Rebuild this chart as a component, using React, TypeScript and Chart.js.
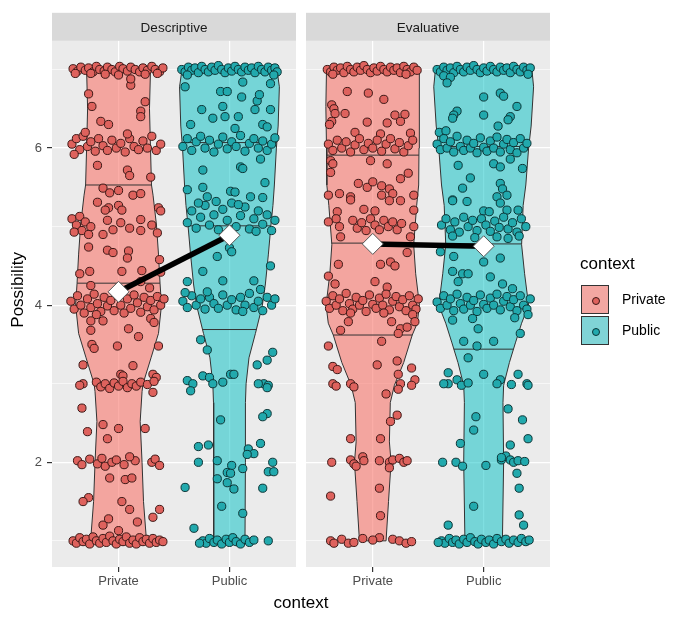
import { useEffect, useRef } from "react";
import { Chart, registerables } from "chart.js";

Chart.register(...registerables);

const FONT = "'Liberation Sans', Arial, Helvetica, sans-serif";

// ---- categories / ticks ----
const facets = ["Descriptive", "Evaluative"];
const contexts = ["Private", "Public"];
const xTickLabels = ["Private", "Public", "Private", "Public"];
const groupPositions = [1, 2, 3.292, 4.292];
const facetRanges = [
  [0.4, 2.6],
  [2.69, 4.89],
];
const yTicks = [1, 2, 3, 4, 5, 6, 7];

// ---- means (white diamonds) ----
const meanValues = [4.17, 4.89, 4.78, 4.75];

// ---- quantile lines (25 / 50 / 75 %) ----
const descPrivateQuantiles = [3.0, 4.28, 5.53];
const descPublicQuantiles = [3.69, 5.01, 6.07];
const evalPrivateQuantiles = [3.62, 4.79, 5.91];
const evalPublicQuantiles = [3.44, 4.78, 6.02];

// ---- violin outlines: levels (ascending) and half-widths ----
const descPrivateViolinY = [1.0, 1.5, 2.0, 2.52, 2.9, 3.0, 3.33, 3.64, 4.0, 4.28, 4.65, 5.02, 5.4, 5.53, 6.0, 6.5, 7.0];
const descPrivateViolinW = [0.252, 0.225, 0.212, 0.195, 0.212, 0.221, 0.293, 0.36, 0.387, 0.374, 0.36, 0.342, 0.311, 0.297, 0.288, 0.279, 0.288];

const descPublicViolinY = [1.0, 2.0, 2.76, 3.0, 3.33, 3.64, 4.0, 4.27, 4.65, 5.02, 5.27, 5.53, 6.0, 6.28, 6.78, 7.0];
const descPublicViolinW = [0.14, 0.144, 0.144, 0.15, 0.176, 0.234, 0.297, 0.324, 0.351, 0.374, 0.392, 0.405, 0.423, 0.439, 0.45, 0.428];

const evalPrivateViolinY = [1.0, 1.5, 2.0, 2.26, 2.76, 2.98, 3.27, 3.62, 3.77, 4.0, 4.4, 4.77, 5.27, 5.53, 6.0, 6.53, 7.0];
const evalPrivateViolinW = [0.12, 0.142, 0.165, 0.15, 0.158, 0.195, 0.279, 0.356, 0.401, 0.421, 0.387, 0.369, 0.396, 0.414, 0.417, 0.423, 0.417];

const evalPublicViolinY = [1.0, 2.0, 2.76, 2.98, 3.27, 3.52, 3.77, 4.0, 4.4, 4.77, 5.27, 5.53, 6.0, 6.28, 6.78, 7.0];
const evalPublicViolinW = [0.169, 0.18, 0.174, 0.18, 0.232, 0.286, 0.342, 0.405, 0.369, 0.342, 0.356, 0.38, 0.405, 0.428, 0.45, 0.435];

// ---- jittered observations: [x jitter, value] ----
const descPrivatePoints = [
  [-0.41, 7.01], [-0.37, 6.98], [-0.34, 7.03], [-0.3, 6.99], [-0.27, 7.02], [-0.23, 6.97], [-0.2, 7.04], [-0.17, 7.0], [-0.13, 6.98], [-0.1, 7.03],
  [-0.06, 7.0], [-0.03, 6.97], [0.01, 7.04], [0.04, 7.01], [0.08, 6.98], [0.11, 7.03], [0.15, 7.0], [0.19, 6.97], [0.22, 7.02], [0.26, 6.99],
  [0.3, 7.04], [0.33, 7.0], [0.37, 6.97], [0.4, 7.02], [-0.39, 6.95], [-0.25, 6.95], [0.0, 6.93], [0.24, 6.94], [0.35, 6.95], [-0.12, 6.94],
  [0.11, 6.8], [0.11, 6.88], [-0.27, 6.69], [0.24, 6.59], [-0.24, 6.53], [0.2, 6.47], [0.2, 6.4], [-0.16, 6.34], [-0.09, 6.3],
  [-0.42, 6.05], [-0.38, 6.12], [-0.35, 5.98], [-0.32, 6.15], [-0.28, 6.02], [-0.25, 6.08], [-0.21, 5.96], [-0.18, 6.12], [-0.14, 6.03], [-0.1, 5.97],
  [-0.06, 6.1], [-0.02, 6.0], [0.02, 6.06], [0.06, 5.95], [0.1, 6.12], [0.14, 6.02], [0.18, 5.98], [0.22, 6.09], [0.26, 6.0], [0.3, 6.15],
  [0.34, 5.97], [0.38, 6.05], [-0.4, 5.92], [0.08, 6.18], [-0.3, 6.2],
  [-0.19, 5.78], [0.08, 5.72], [0.1, 5.65], [0.29, 5.63], [-0.14, 5.49], [-0.08, 5.43], [0.0, 5.46], [0.13, 5.4], [0.2, 5.42],
  [-0.19, 5.31], [-0.09, 5.24], [-0.12, 5.21], [0.0, 5.27], [0.03, 5.21], [0.36, 5.24], [0.38, 5.2],
  [-0.42, 5.1], [-0.38, 5.02], [-0.35, 5.13], [-0.33, 4.95], [-0.3, 5.06], [-0.27, 4.9], [-0.4, 4.93], [-0.25, 5.0], [-0.1, 5.08], [0.02, 5.05],
  [0.1, 4.98], [0.2, 5.09], [0.2, 4.95], [0.35, 4.92], [-0.14, 4.9], [-0.05, 4.96], [0.3, 5.02],
  [-0.27, 4.74], [-0.1, 4.7], [-0.05, 4.67], [0.09, 4.69], [0.08, 4.6], [0.37, 4.58], [-0.35, 4.4], [-0.26, 4.43], [0.03, 4.43], [0.21, 4.44],
  [0.38, 4.42], [-0.25, 4.25], [0.2, 4.3], [0.28, 4.22],
  [-0.43, 4.05], [-0.4, 3.95], [-0.37, 4.12], [-0.34, 4.0], [-0.31, 3.9], [-0.28, 4.08], [-0.25, 3.97], [-0.22, 4.14], [-0.19, 4.02], [-0.16, 3.92],
  [-0.13, 4.1], [-0.1, 3.99], [-0.07, 4.06], [-0.04, 3.93], [-0.01, 4.12], [0.02, 4.0], [0.05, 3.9], [0.08, 4.08], [0.11, 3.96], [0.14, 4.13],
  [0.17, 4.03], [0.2, 3.91], [0.23, 4.1], [0.26, 3.98], [0.29, 4.06], [0.32, 3.94], [0.35, 4.11], [0.38, 4.0], [0.41, 4.08], [-0.2, 3.88],
  [-0.25, 3.8], [-0.14, 3.8], [0.29, 3.83], [0.32, 3.78], [-0.25, 3.68], [0.09, 3.7], [0.18, 3.6], [-0.24, 3.5], [-0.22, 3.45], [-0.01, 3.48],
  [0.36, 3.48], [0.13, 3.23], [-0.32, 3.24], [0.02, 3.12], [0.04, 3.1], [0.31, 3.12], [0.34, 3.08],
  [-0.32, 3.0], [-0.35, 2.98], [-0.2, 3.02], [-0.16, 2.96], [-0.12, 3.0], [-0.08, 2.94], [-0.04, 3.01], [0.0, 2.97], [0.04, 3.03], [0.08, 2.95],
  [0.12, 3.0], [0.16, 2.97], [0.2, 3.02], [0.26, 2.99], [0.32, 3.03],
  [0.31, 2.89], [-0.33, 2.69], [-0.14, 2.48], [0.0, 2.43], [-0.28, 2.39], [0.24, 2.43], [-0.1, 2.3],
  [-0.37, 2.02], [-0.33, 1.97], [-0.26, 2.04], [-0.19, 1.98], [-0.15, 2.05], [-0.12, 1.95], [-0.06, 2.0], [-0.02, 2.03], [0.05, 1.97], [0.15, 2.02],
  [0.3, 2.0], [0.33, 2.04], [0.37, 1.96], [0.1, 2.07],
  [-0.08, 1.8], [0.06, 1.78], [0.12, 1.8], [-0.27, 1.55], [-0.32, 1.5], [0.03, 1.5], [0.1, 1.4], [0.37, 1.4], [0.31, 1.3], [-0.14, 1.2],
  [-0.09, 1.28], [0.17, 1.24], [0.0, 1.13],
  [-0.41, 1.0], [-0.38, 0.97], [-0.35, 1.04], [-0.32, 0.99], [-0.29, 1.02], [-0.26, 0.96], [-0.23, 1.05], [-0.2, 1.0], [-0.17, 0.97], [-0.14, 1.03],
  [-0.11, 0.98], [-0.08, 1.06], [-0.05, 1.0], [-0.02, 0.96], [0.01, 1.02], [0.04, 0.99], [0.07, 1.05], [0.1, 0.97], [0.13, 1.01], [0.16, 0.96],
  [0.19, 1.04], [0.22, 0.99], [0.25, 1.02], [0.28, 0.97], [0.31, 1.03], [0.34, 0.98], [0.37, 1.01], [0.4, 0.99],
];

const descPublicPoints = [
  [-0.43, 7.0], [-0.4, 6.97], [-0.37, 7.03], [-0.34, 6.99], [-0.31, 7.02], [-0.28, 6.96], [-0.25, 7.04], [-0.22, 7.0], [-0.19, 6.97], [-0.16, 7.03],
  [-0.13, 6.99], [-0.1, 7.05], [-0.07, 7.0], [-0.04, 6.96], [-0.01, 7.02], [0.02, 6.98], [0.05, 7.04], [0.08, 7.0], [0.11, 6.97], [0.14, 7.03],
  [0.17, 6.99], [0.2, 7.02], [0.23, 6.96], [0.26, 7.04], [0.29, 7.0], [0.32, 6.97], [0.35, 7.03], [0.38, 6.99], [0.41, 7.02], [0.43, 6.97],
  [-0.38, 6.93], [0.4, 6.93],
  [-0.4, 6.78], [0.12, 6.84], [0.37, 6.82], [-0.08, 6.72], [-0.02, 6.72], [0.11, 6.65], [0.25, 6.6], [0.27, 6.68], [-0.25, 6.49], [-0.06, 6.53],
  [0.23, 6.49], [0.37, 6.49], [-0.15, 6.38], [-0.04, 6.4], [0.08, 6.4], [0.3, 6.3], [0.34, 6.27], [-0.35, 6.3], [0.05, 6.25],
  [-0.42, 6.02], [-0.38, 6.12], [-0.34, 5.97], [-0.3, 6.08], [-0.26, 6.15], [-0.22, 6.0], [-0.18, 6.1], [-0.14, 5.95], [-0.1, 6.05], [-0.06, 6.14],
  [-0.02, 5.99], [0.02, 6.08], [0.06, 6.02], [0.1, 6.16], [0.14, 5.96], [0.18, 6.06], [0.22, 6.12], [0.26, 6.0], [0.3, 6.09], [0.34, 5.97],
  [0.38, 6.05], [0.41, 6.13],
  [0.28, 5.86], [0.1, 5.76], [0.12, 5.74], [-0.24, 5.72], [0.32, 5.56], [-0.38, 5.47], [-0.24, 5.5], [-0.2, 5.38], [0.01, 5.45], [0.05, 5.44],
  [0.19, 5.38], [0.3, 5.37],
  [-0.38, 5.05], [-0.34, 5.2], [-0.3, 4.98], [-0.26, 5.12], [-0.22, 5.27], [-0.18, 5.02], [-0.14, 5.15], [-0.1, 4.96], [-0.06, 5.22], [-0.02, 5.08],
  [0.02, 5.3], [0.06, 5.0], [0.1, 5.14], [0.14, 5.25], [0.18, 4.97], [0.22, 5.1], [0.26, 5.2], [0.3, 5.03], [0.34, 5.15], [0.38, 4.95],
  [0.41, 5.08], [-0.12, 5.32], [0.08, 5.28], [0.24, 4.94], [-0.28, 5.3],
  [-0.11, 4.62], [0.0, 4.73], [0.02, 4.68], [0.37, 4.5], [-0.24, 4.43], [-0.06, 4.31], [0.22, 4.31], [-0.38, 4.3], [0.28, 4.2],
  [-0.42, 4.05], [-0.38, 3.97], [-0.34, 4.12], [-0.3, 4.0], [-0.26, 4.08], [-0.22, 3.95], [-0.18, 4.1], [-0.14, 4.02], [-0.1, 3.96], [-0.06, 4.13],
  [-0.02, 4.0], [0.02, 4.07], [0.06, 3.94], [0.1, 4.1], [0.14, 4.0], [0.18, 4.15], [0.22, 3.97], [0.26, 4.05], [0.3, 3.93], [0.34, 4.1],
  [0.38, 4.0], [0.41, 4.08], [-0.4, 4.16], [0.12, 3.92], [-0.2, 4.17],
  [-0.26, 3.56], [-0.2, 3.43], [0.39, 3.4], [0.34, 3.3], [0.25, 3.24], [-0.24, 3.1], [-0.18, 3.08], [0.01, 3.12], [0.04, 3.12], [-0.38, 3.04],
  [0.31, 3.0], [0.35, 2.98], [-0.33, 3.0], [-0.06, 3.02], [-0.35, 2.91], [-0.15, 3.0], [0.34, 2.95], [0.26, 3.0],
  [0.34, 2.62], [0.3, 2.58], [-0.08, 2.54], [-0.19, 2.22], [-0.28, 2.2], [0.17, 2.17], [0.22, 2.11], [0.28, 2.24], [0.16, 2.1], [-0.28, 2.0],
  [-0.11, 2.02], [0.02, 1.96], [0.39, 2.0], [0.35, 1.88], [0.4, 1.88], [0.12, 1.92], [-0.02, 1.87], [0.01, 1.86], [-0.11, 1.79], [-0.02, 1.74],
  [0.04, 1.66], [-0.4, 1.68], [0.3, 1.67], [-0.07, 1.44], [0.12, 1.35], [-0.32, 1.16],
  [-0.24, 1.0], [-0.21, 0.97], [-0.18, 1.03], [-0.14, 0.98], [-0.11, 1.01], [-0.07, 0.96], [-0.03, 1.02], [0.0, 0.98], [0.03, 1.04], [0.06, 0.99],
  [0.1, 0.96], [0.14, 1.02], [0.18, 0.98], [0.22, 1.01], [0.35, 1.0], [-0.27, 0.97],
];

const evalPrivatePoints = [
  [-0.41, 7.0], [-0.38, 6.97], [-0.35, 7.03], [-0.32, 6.99], [-0.29, 7.02], [-0.26, 6.96], [-0.23, 7.04], [-0.2, 7.0], [-0.17, 6.97], [-0.14, 7.03],
  [-0.11, 6.99], [-0.08, 7.05], [-0.05, 7.0], [-0.02, 6.96], [0.01, 7.02], [0.04, 6.98], [0.07, 7.04], [0.1, 7.0], [0.13, 6.97], [0.16, 7.03],
  [0.19, 6.99], [0.22, 7.02], [0.25, 6.96], [0.28, 7.04], [0.31, 7.0], [0.34, 6.97], [0.37, 7.03], [0.4, 6.99], [-0.36, 6.94], [0.3, 6.94],
  [-0.23, 6.72], [-0.04, 6.7], [0.1, 6.62], [-0.37, 6.55], [-0.35, 6.5], [-0.34, 6.44], [-0.25, 6.44], [-0.37, 6.34], [-0.39, 6.3], [0.2, 6.42],
  [0.29, 6.43], [0.25, 6.34], [-0.05, 6.33], [0.13, 6.32], [-0.16, 6.2], [0.07, 6.18], [0.34, 6.19],
  [-0.4, 6.05], [-0.36, 5.97], [-0.32, 6.1], [-0.28, 6.0], [-0.24, 6.08], [-0.2, 5.95], [-0.16, 6.04], [-0.12, 6.12], [-0.08, 5.98], [-0.04, 6.06],
  [0.0, 6.0], [0.04, 6.1], [0.08, 5.96], [0.12, 6.05], [0.16, 6.12], [0.2, 5.99], [0.24, 6.07], [0.28, 5.95], [0.32, 6.03], [0.36, 6.1],
  [-0.38, 5.84], [-0.36, 5.8], [-0.02, 5.84], [0.13, 5.8], [-0.38, 5.69], [0.32, 5.68], [0.25, 5.61], [-0.13, 5.55], [-0.05, 5.5], [0.0, 5.57],
  [0.08, 5.52], [0.15, 5.48], [0.08, 5.4], [0.18, 5.42], [0.37, 5.4], [-0.4, 5.4], [-0.3, 5.42], [-0.2, 5.38],
  [-0.2, 5.34], [-0.08, 5.22], [0.02, 5.2], [0.15, 5.33], [0.25, 5.33], [0.37, 5.21], [-0.32, 5.19],
  [-0.4, 5.06], [-0.33, 5.1], [-0.3, 5.0], [-0.18, 5.08], [-0.14, 4.98], [-0.1, 5.05], [-0.06, 4.95], [-0.02, 5.1], [0.02, 5.02], [0.06, 4.96],
  [0.1, 5.08], [0.14, 5.0], [0.18, 5.06], [0.22, 4.96], [0.26, 5.04], [0.37, 5.0], [0.34, 4.87], [-0.29, 4.87],
  [-0.31, 4.52], [0.07, 4.52], [0.16, 4.55], [0.31, 4.67], [0.2, 4.5], [-0.4, 4.37], [-0.34, 4.27], [0.02, 4.3], [0.13, 4.23],
  [-0.42, 4.05], [-0.39, 3.96], [-0.36, 4.12], [-0.33, 4.0], [-0.3, 4.08], [-0.27, 3.93], [-0.24, 4.15], [-0.21, 4.02], [-0.18, 3.95], [-0.15, 4.1],
  [-0.12, 4.0], [-0.09, 4.06], [-0.06, 3.92], [-0.03, 4.13], [0.0, 4.01], [0.03, 3.96], [0.06, 4.09], [0.09, 4.0], [0.12, 4.14], [0.15, 3.94],
  [0.18, 4.05], [0.21, 4.11], [0.24, 3.98], [0.27, 4.07], [0.3, 3.93], [0.33, 4.12], [0.36, 4.0], [0.39, 3.95], [0.41, 4.08], [-0.2, 3.9],
  [0.1, 3.9], [0.36, 3.88],
  [-0.22, 3.79], [0.17, 3.79], [0.38, 3.79], [-0.29, 3.68], [0.25, 3.7], [0.31, 3.72], [0.23, 3.64], [0.08, 3.54], [-0.4, 3.48], [-0.36, 3.22],
  [-0.32, 3.18], [0.04, 3.24], [0.22, 3.29], [0.35, 3.2], [0.23, 3.12], [0.38, 3.05],
  [-0.36, 3.0], [-0.33, 2.97], [-0.2, 3.0], [0.25, 3.0], [0.23, 2.93], [0.35, 2.98], [-0.17, 2.96], [0.12, 2.87],
  [0.22, 2.6], [0.16, 2.52], [-0.2, 2.3], [0.07, 2.3],
  [-0.37, 2.0], [-0.2, 2.03], [-0.17, 1.98], [-0.09, 2.07], [-0.08, 2.02], [0.06, 2.02], [0.15, 2.0], [0.18, 2.03], [0.24, 2.05], [0.28, 2.0],
  [0.31, 2.02], [0.15, 1.93], [-0.15, 1.95],
  [0.06, 1.67], [-0.38, 1.57], [0.07, 1.32],
  [-0.38, 1.0], [-0.35, 0.97], [-0.28, 1.02], [-0.22, 0.97], [-0.17, 0.98], [-0.09, 1.03], [0.06, 1.04], [0.18, 1.02], [0.24, 1.0], [0.3, 0.97],
  [0.35, 0.99], [0.0, 1.01],
];

const evalPublicPoints = [
  [-0.42, 7.0], [-0.39, 6.97], [-0.36, 7.03], [-0.33, 6.99], [-0.3, 7.02], [-0.27, 6.96], [-0.24, 7.04], [-0.21, 7.0], [-0.18, 6.97], [-0.15, 7.03],
  [-0.12, 6.99], [-0.09, 7.05], [-0.06, 7.0], [-0.03, 6.96], [0.0, 7.02], [0.03, 6.98], [0.06, 7.04], [0.09, 7.0], [0.12, 6.97], [0.15, 7.03],
  [0.18, 6.99], [0.21, 7.02], [0.24, 6.96], [0.27, 7.04], [0.3, 7.0], [0.33, 6.97], [0.36, 7.03], [0.39, 6.99], [0.42, 7.02], [-0.36, 6.92],
  [-0.3, 6.9], [0.4, 6.94],
  [-0.33, 6.83], [0.15, 6.7], [0.18, 6.66], [0.0, 6.65], [0.3, 6.53], [-0.24, 6.47], [-0.27, 6.42], [0.24, 6.4], [0.22, 6.36], [-0.28, 6.38],
  [0.0, 6.42], [0.13, 6.28], [-0.4, 6.2], [-0.34, 6.22],
  [-0.42, 6.05], [-0.39, 5.98], [-0.36, 6.12], [-0.33, 6.0], [-0.3, 6.08], [-0.27, 5.95], [-0.24, 6.15], [-0.21, 6.02], [-0.18, 5.97], [-0.15, 6.1],
  [-0.12, 6.0], [-0.09, 6.06], [-0.06, 5.94], [-0.03, 6.13], [0.0, 6.01], [0.03, 5.96], [0.06, 6.09], [0.09, 6.0], [0.12, 6.14], [0.15, 5.95],
  [0.18, 6.05], [0.21, 6.11], [0.24, 5.98], [0.27, 6.07], [0.3, 5.94], [0.33, 6.12], [0.36, 6.0], [0.39, 6.06],
  [0.09, 5.8], [0.15, 5.76], [0.24, 5.86], [0.35, 5.74], [-0.23, 5.78], [-0.12, 5.62], [0.15, 5.55], [0.17, 5.48], [-0.19, 5.49], [-0.28, 5.34],
  [0.12, 5.38], [0.21, 5.4],
  [-0.28, 5.33], [-0.15, 5.32], [0.15, 5.3], [0.21, 5.21], [0.31, 5.21], [0.0, 5.2], [0.05, 5.19],
  [-0.38, 5.02], [-0.34, 5.1], [-0.3, 4.96], [-0.26, 5.06], [-0.22, 4.93], [-0.18, 5.12], [-0.14, 5.0], [-0.1, 5.08], [-0.06, 4.95], [-0.02, 5.1],
  [0.02, 5.02], [0.06, 4.94], [0.1, 5.07], [0.14, 4.99], [0.18, 5.12], [0.22, 4.97], [0.26, 5.05], [0.3, 4.93], [0.34, 5.1], [0.38, 5.0],
  [0.32, 4.88], [-0.08, 4.86], [0.12, 4.87], [-0.28, 4.88], [0.22, 4.85],
  [-0.39, 4.68], [-0.27, 4.62], [0.0, 4.55], [0.15, 4.6], [-0.28, 4.43], [-0.19, 4.4], [-0.14, 4.4], [0.06, 4.36], [0.17, 4.27], [-0.23, 4.3],
  [0.26, 4.21],
  [-0.42, 4.04], [-0.39, 3.96], [-0.36, 4.12], [-0.33, 4.0], [-0.3, 4.08], [-0.27, 3.93], [-0.24, 4.14], [-0.21, 4.02], [-0.18, 3.95], [-0.15, 4.1],
  [-0.12, 4.0], [-0.09, 4.06], [-0.06, 3.92], [-0.03, 4.13], [0.0, 4.01], [0.03, 3.96], [0.06, 4.09], [0.09, 4.0], [0.12, 4.14], [0.15, 3.94],
  [0.18, 4.05], [0.21, 4.11], [0.24, 3.98], [0.27, 4.07], [0.3, 3.93], [0.33, 4.12], [0.36, 4.0], [0.39, 3.95], [0.42, 4.08], [0.4, 3.88],
  [-0.28, 3.81], [-0.1, 3.83], [0.28, 3.84], [-0.05, 3.7], [-0.18, 3.54], [0.09, 3.54], [0.33, 3.64], [-0.06, 3.48], [-0.14, 3.33], [-0.32, 3.14],
  [-0.24, 3.05], [0.0, 3.12], [0.31, 3.12], [0.15, 3.05], [0.12, 3.0], [0.39, 3.0], [-0.32, 3.0], [-0.36, 3.0], [-0.2, 2.98], [-0.14, 3.01],
  [0.25, 2.99], [0.4, 2.98],
  [0.22, 2.68], [0.35, 2.54], [-0.07, 2.58], [-0.09, 2.41], [-0.21, 2.24], [0.24, 2.22], [0.4, 2.3],
  [-0.37, 2.0], [-0.25, 2.0], [-0.19, 1.95], [0.02, 1.96], [0.16, 2.03], [0.2, 2.08], [0.24, 2.03], [0.27, 2.0], [0.31, 2.02], [0.37, 2.01],
  [0.16, 2.06],
  [0.3, 1.86], [0.32, 1.67], [-0.09, 1.44], [0.32, 1.33], [-0.32, 1.2], [0.36, 1.2],
  [-0.38, 1.0], [-0.35, 0.97], [-0.31, 1.03], [-0.28, 0.98], [-0.25, 1.01], [-0.22, 0.96], [-0.18, 1.02], [-0.15, 0.98], [-0.12, 1.04], [-0.08, 0.99],
  [-0.05, 0.96], [-0.02, 1.02], [0.02, 0.98], [0.05, 1.01], [0.09, 0.96], [0.12, 1.03], [0.16, 0.99], [0.2, 1.02], [0.23, 0.97], [0.27, 1.01],
  [0.31, 0.98], [0.34, 1.03], [0.38, 0.99], [0.41, 1.01], [-0.41, 0.98],
];

// ---- styles ----
const violinFill = ["rgba(248,118,109,0.6)", "rgba(0,191,196,0.5)"];
const pointFill = ["#DE625D", "#22A9AD"];
const pointBorder = ["#3D1816", "#0C3536"];
const legendKeyFill = ["#F3A7A2", "#80D4D6"];

const groups = [
  { facet: 0, ctx: 0, violinY: descPrivateViolinY, violinW: descPrivateViolinW, quant: descPrivateQuantiles, pts: descPrivatePoints },
  { facet: 0, ctx: 1, violinY: descPublicViolinY, violinW: descPublicViolinW, quant: descPublicQuantiles, pts: descPublicPoints },
  { facet: 1, ctx: 0, violinY: evalPrivateViolinY, violinW: evalPrivateViolinW, quant: evalPrivateQuantiles, pts: evalPrivatePoints },
  { facet: 1, ctx: 1, violinY: evalPublicViolinY, violinW: evalPublicViolinW, quant: evalPublicQuantiles, pts: evalPublicPoints },
];

function widthAt(ys: number[], ws: number[], y: number) {
  for (let i = 0; i < ys.length - 1; i++) {
    if (y >= ys[i] && y <= ys[i + 1]) {
      const t = (y - ys[i]) / (ys[i + 1] - ys[i]);
      return ws[i] + t * (ws[i + 1] - ws[i]);
    }
  }
  return ws[ws.length - 1];
}

const STRIP_H = 28;

const panelPlugin = {
  id: "panels",
  beforeDraw(chart: any) {
    const { ctx, chartArea } = chart;
    const xs = chart.scales.x;
    ctx.save();
    ctx.fillStyle = "#EBEBEB";
    facetRanges.forEach(([a, b]) => {
      const x0 = xs.getPixelForValue(a);
      const x1 = xs.getPixelForValue(b);
      ctx.fillRect(x0, chartArea.top + STRIP_H, x1 - x0, chartArea.bottom - chartArea.top - STRIP_H);
    });
    ctx.restore();
  },
  afterDraw(chart: any) {
    const { ctx, chartArea } = chart;
    const xs = chart.scales.x;
    ctx.save();
    facetRanges.forEach(([a, b], i) => {
      const x0 = xs.getPixelForValue(a);
      const x1 = xs.getPixelForValue(b);
      ctx.fillStyle = "#D9D9D9";
      ctx.fillRect(x0, chartArea.top, x1 - x0, STRIP_H);
      ctx.fillStyle = "#1A1A1A";
      ctx.font = `13.5px ${FONT}`;
      ctx.textAlign = "center";
      ctx.textBaseline = "middle";
      ctx.fillText(facets[i], (x0 + x1) / 2, chartArea.top + STRIP_H / 2 + 1);
    });
    ctx.restore();
  },
};

export default function App() {
  const canvasRef = useRef<HTMLCanvasElement | null>(null);

  useEffect(() => {
    const canvas = canvasRef.current;
    if (!canvas) return;
    const datasets: any[] = [];

    groups.forEach((g, gi) => {
      const cx = groupPositions[gi];
      const right = g.violinY.map((y, i) => ({ x: cx + g.violinW[i], y }));
      const left = g.violinY.map((y, i) => ({ x: cx - g.violinW[i], y })).reverse();
      datasets.push({
        type: "line",
        data: [...right, ...left, right[0]],
        borderColor: "#333333",
        borderWidth: 1,
        backgroundColor: violinFill[g.ctx],
        fill: "shape",
        pointRadius: 0,
        tension: 0,
        order: 50,
      });
      g.quant.forEach((q) => {
        const w = widthAt(g.violinY, g.violinW, q);
        datasets.push({
          type: "line",
          data: [
            { x: cx - w, y: q },
            { x: cx + w, y: q },
          ],
          borderColor: "#333333",
          borderWidth: 1,
          pointRadius: 0,
          fill: false,
          order: 40,
        });
      });
      datasets.push({
        type: "scatter",
        data: g.pts.map(([dx, y]) => ({ x: cx + dx, y })),
        pointRadius: 4.1,
        pointBorderWidth: 1,
        backgroundColor: pointFill[g.ctx],
        borderColor: pointBorder[g.ctx],
        order: 30,
      });
    });

    [0, 1].forEach((f) => {
      const i0 = f * 2;
      const i1 = f * 2 + 1;
      datasets.push({
        type: "line",
        data: [
          { x: groupPositions[i0], y: meanValues[i0] },
          { x: groupPositions[i1], y: meanValues[i1] },
        ],
        borderColor: "#000000",
        borderWidth: 5.5,
        pointRadius: 0,
        fill: false,
        order: 20,
      });
      datasets.push({
        type: "scatter",
        data: [
          { x: groupPositions[i0], y: meanValues[i0] },
          { x: groupPositions[i1], y: meanValues[i1] },
        ],
        pointStyle: "rectRot",
        pointRadius: 10.5,
        pointBorderWidth: 1,
        backgroundColor: "#FFFFFF",
        borderColor: "#555555",
        order: 10,
      });
    });

    const chart = new Chart(canvas, {
      type: "scatter",
      data: { datasets },
      plugins: [panelPlugin],
      options: {
        animation: false,
        responsive: false,
        devicePixelRatio: 1,
        events: [],
        layout: { padding: { left: 0, right: 135, top: 5, bottom: 0 } },
        plugins: { legend: { display: false }, tooltip: { enabled: false } },
        scales: {
          x: {
            type: "linear",
            min: 0.4,
            max: 4.89,
            afterBuildTicks: (s: any) => {
              s.ticks = groupPositions.map((v) => ({ value: v }));
            },
            afterFit: (s: any) => {
              s.height = 58;
            },
            ticks: {
              callback: (_v: any, i: number) => xTickLabels[i],
              color: "#4D4D4D",
              font: { family: FONT, size: 13 },
              padding: 2,
              maxRotation: 0,
              autoSkip: false,
            },
            grid: { color: "#FFFFFF", lineWidth: 1.2, tickColor: "#333333", tickLength: 5 },
            border: { display: false },
            title: {
              display: true,
              text: "context",
              color: "#000000",
              font: { family: FONT, size: 17 },
              padding: { top: 0, bottom: 11 },
            },
          },
          y: {
            type: "linear",
            min: 0.667,
            max: 7.722,
            afterBuildTicks: (s: any) => {
              s.ticks = yTicks.map((v) => ({ value: v }));
            },
            afterFit: (s: any) => {
              s.width = 52;
            },
            ticks: {
              callback: (v: any) => (v % 2 === 0 ? String(v) : ""),
              color: "#4D4D4D",
              font: { family: FONT, size: 13 },
              padding: 5,
            },
            grid: {
              color: "#FFFFFF",
              lineWidth: (c: any) => (c.tick && c.tick.value % 2 === 0 ? 1.2 : 0.6),
              tickColor: (c: any) => (c.tick && c.tick.value % 2 === 0 ? "#333333" : "rgba(0,0,0,0)"),
              tickLength: 5,
            },
            border: { display: false },
            title: {
              display: true,
              text: "Possibility",
              color: "#000000",
              font: { family: FONT, size: 17 },
              padding: { top: 8, bottom: 0 },
            },
          },
        },
      },
    } as any);

    return () => chart.destroy();
  }, []);

  return (
    <div style={{ position: "absolute", left: 0, top: 0, width: 685, height: 625, background: "#FFFFFF", fontFamily: FONT }}>
      <canvas ref={canvasRef} width={685} height={625} style={{ display: "block" }} />
      <div style={{ position: "absolute", left: 580, top: 254, fontSize: 17, color: "#000", lineHeight: "20px" }}>context</div>
      {contexts.map((c, i) => (
        <div key={c}>
          <div
            style={{
              position: "absolute",
              left: 581,
              top: 285 + i * 31,
              width: 28,
              height: 29,
              boxSizing: "border-box",
              background: legendKeyFill[i],
              border: "1.2px solid #333",
            }}
          >
            <div
              style={{
                position: "absolute",
                left: 10,
                top: 10.5,
                width: 6,
                height: 6,
                borderRadius: "50%",
                background: pointFill[i],
                border: `1px solid ${pointBorder[i]}`,
              }}
            />
          </div>
          <div style={{ position: "absolute", left: 622, top: 291 + i * 31, fontSize: 14, color: "#000", lineHeight: "17px" }}>{c}</div>
        </div>
      ))}
    </div>
  );
}
